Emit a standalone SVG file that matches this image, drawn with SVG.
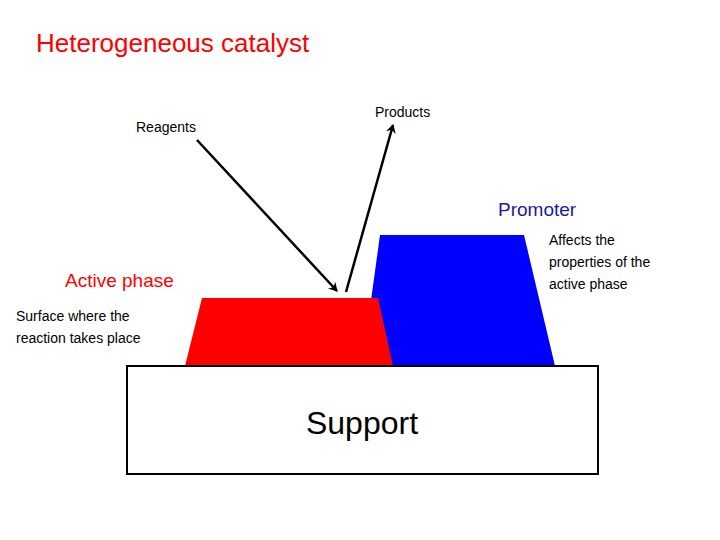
<svg xmlns="http://www.w3.org/2000/svg" width="720" height="540" viewBox="0 0 720 540">
<defs>
<marker id="ah" markerWidth="10" markerHeight="10" refX="8" refY="5" orient="auto" markerUnits="userSpaceOnUse">
<path d="M0,0 L9,5 L0,10 L3,5 Z" fill="#000"/>
</marker>
<style>
text{font-family:"Liberation Sans","DejaVu Sans",sans-serif}
.s{font-size:14px;fill:#000}
.r{fill:#ff0000}
.b{fill:#1a1aa6}
.c{stroke:#000;stroke-width:2.5;fill:none;marker-end:url(#ah)}
</style>
</defs>
<rect width="720" height="540" fill="#fff"/>
<text x="36" y="52" font-size="26" class="r">Heterogeneous catalyst</text>
<g id="promoter">
<polygon points="380,235 524,235 555,366 362,366" fill="#0000ff"/>
<text x="498" y="216" font-size="19" class="b">Promoter</text>
<text class="s" x="549" y="245">Affects the</text>
<text class="s" x="549" y="267">properties of the</text>
<text class="s" x="549" y="289">active phase</text>
</g>
<g id="active">
<polygon points="202,298 378,298 393,366 185,366" fill="#ff0000"/>
<text x="65" y="287" font-size="19" class="r">Active phase</text>
<text class="s" x="16" y="321">Surface where the</text>
<text class="s" x="16" y="343">reaction takes place</text>
</g>
<g id="support">
<rect x="127" y="366" width="471" height="108" fill="#fff" stroke="#000" stroke-width="2"/>
<text x="362" y="434" font-size="32" text-anchor="middle" fill="#000">Support</text>
</g>
<g id="reagents"><text class="s" x="136" y="132">Reagents</text></g>
<g id="products"><text class="s" x="375" y="117">Products</text></g>
<g id="connectors">
<line class="c" x1="197" y1="140" x2="337" y2="291"/>
<line class="c" x1="346" y1="292" x2="393" y2="125"/>
</g>
</svg>
